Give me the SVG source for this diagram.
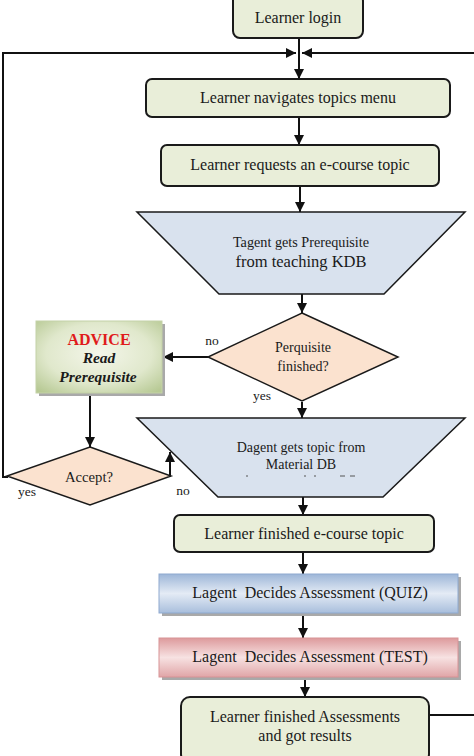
<svg xmlns="http://www.w3.org/2000/svg" width="474" height="756" viewBox="0 0 474 756">
<style>
text{font-family:"Liberation Serif","Times New Roman",serif;fill:#1a1a1a;text-anchor:middle}
.box{fill:#e9eed9;stroke:#1a1a1a;stroke-width:2}
.trap{fill:#d9e2ee;stroke:#1a1a1a;stroke-width:1.5}
.dia{fill:#fbe2cf;stroke:#1a1a1a;stroke-width:1.5}
.c{fill:none;stroke:#111;stroke-width:2}
.t15{font-size:16px}
.t13{font-size:13.5px}
.shadow{fill:#a9a9a9}
</style>
<defs>
<marker id="ah" viewBox="0 0 10 10" refX="10" refY="5" markerWidth="5.5" markerHeight="5" orient="auto" markerUnits="strokeWidth">
<path d="M0,0 L10,5 L0,10 z" fill="#111"/>
</marker>
<radialGradient id="gGreen" cx="0.5" cy="0.45" r="0.7">
<stop offset="0" stop-color="#f4f6ea"/>
<stop offset="0.6" stop-color="#e0e8cc"/>
<stop offset="1" stop-color="#b7c994"/>
</radialGradient>
<linearGradient id="gBlue" x1="0" y1="0" x2="0" y2="1">
<stop offset="0" stop-color="#9db6d8"/>
<stop offset="0.5" stop-color="#e4ebf5"/>
<stop offset="1" stop-color="#a8bedc"/>
</linearGradient>
<linearGradient id="gRed" x1="0" y1="0" x2="0" y2="1">
<stop offset="0" stop-color="#dd9a9c"/>
<stop offset="0.5" stop-color="#f7e2e2"/>
<stop offset="1" stop-color="#e0a5a7"/>
</linearGradient>
</defs>

<g id="connectors">
<line class="c" x1="299" y1="38" x2="299" y2="79" marker-end="url(#ah)"/>
<polyline class="c" points="8,477 3,477 3,53 296,53" marker-end="url(#ah)"/>
<polyline class="c" points="429,715 475,715 475,53 302,53" marker-end="url(#ah)"/>
<line class="c" x1="299" y1="117" x2="299" y2="145" marker-end="url(#ah)"/>
<line class="c" x1="300" y1="186" x2="300" y2="212" marker-end="url(#ah)"/>
<line class="c" x1="302" y1="294" x2="302" y2="313" marker-end="url(#ah)"/>
<line class="c" x1="208" y1="357" x2="163" y2="357" marker-end="url(#ah)"/>
<line class="c" x1="302" y1="402" x2="302" y2="418" marker-end="url(#ah)"/>
<line class="c" x1="90" y1="395" x2="90" y2="447" marker-end="url(#ah)"/>
<polyline class="c" points="171,476 170,476 170,452" marker-end="url(#ah)"/>
<line class="c" x1="303" y1="497" x2="303" y2="515" marker-end="url(#ah)"/>
<line class="c" x1="303" y1="552" x2="303" y2="574" marker-end="url(#ah)"/>
<line class="c" x1="303" y1="613" x2="303" y2="638" marker-end="url(#ah)"/>
<line class="c" x1="305" y1="677" x2="305" y2="697" marker-end="url(#ah)"/>
<text class="t13" x="212" y="345">no</text>
<text class="t13" x="262" y="400">yes</text>
<text class="t13" x="27" y="496">yes</text>
<text class="t13" x="183" y="495">no</text>
</g>

<g id="login">
<rect class="box" x="233" y="-6" width="130" height="44" rx="7"/>
<text class="t15" x="298" y="23">Learner login</text>
</g>

<g id="navigate">
<rect class="box" x="146" y="79" width="304" height="38" rx="6"/>
<text class="t15" x="298" y="103">Learner navigates topics menu</text>
</g>

<g id="request">
<rect class="box" x="161" y="145" width="278" height="41" rx="6"/>
<text class="t15" x="300" y="170">Learner requests an e-course topic</text>
</g>

<g id="tagent">
<polygon class="trap" points="137,212 465,212 384,294 219,294"/>
<text x="301" y="247" style="font-size:14.2px">Tagent gets Prerequisite</text>
<text x="301" y="267" style="font-size:16.5px">from teaching KDB</text>
</g>

<g id="prereq">
<polygon class="dia" points="302,313 398,357 302,401 208,357"/>
<text x="303" y="352" style="font-size:14px">Perquisite</text>
<text x="303" y="371" style="font-size:14px">finished?</text>
</g>

<g id="advice">
<rect class="shadow" x="39" y="324" width="126" height="72"/>
<rect x="36" y="321" width="126" height="72" fill="url(#gGreen)" stroke="#c4d2a8" stroke-width="1"/>
<text x="99" y="345" style="font-size:16px;font-weight:bold;fill:#e01b1b">ADVICE</text>
<text x="99" y="363" style="font-size:15.5px;font-weight:bold;font-style:italic">Read</text>
<text x="98" y="382" style="font-size:15.5px;font-weight:bold;font-style:italic">Prerequisite</text>
</g>

<g id="dagent">
<polygon class="trap" points="137,418 465,418 383,497 218,497"/>
<text x="301" y="452" style="font-size:14px">Dagent gets topic from</text>
<text x="301" y="469" style="font-size:14px">Material DB</text>
<g stroke="#555" stroke-width="1">
<line x1="246" y1="476" x2="248" y2="476"/>
<line x1="304" y1="476" x2="306" y2="476"/>
<line x1="314" y1="476" x2="316" y2="476"/>
<line x1="340" y1="476" x2="345" y2="476"/>
<line x1="350" y1="476" x2="355" y2="476"/>
</g>
</g>

<g id="accept">
<polygon class="dia" points="90,447 171,476 90,505 7,476"/>
<text x="89" y="482" style="font-size:14.7px">Accept?</text>
</g>

<g id="finishedTopic">
<rect class="box" x="174" y="515" width="260" height="37" rx="6"/>
<text class="t15" x="304" y="539">Learner finished e-course topic</text>
</g>

<g id="quiz">
<rect class="shadow" x="162" y="577" width="299" height="39"/>
<rect x="159" y="574" width="299" height="39" fill="url(#gBlue)" stroke="#8faad0" stroke-width="1"/>
<text class="t15" x="310" y="598" xml:space="preserve">Lagent  Decides Assessment (QUIZ)</text>
</g>

<g id="test">
<rect class="shadow" x="162" y="641" width="299" height="39"/>
<rect x="159" y="638" width="299" height="39" fill="url(#gRed)" stroke="#d89396" stroke-width="1"/>
<text class="t15" x="310" y="662" xml:space="preserve">Lagent  Decides Assessment (TEST)</text>
</g>

<g id="results">
<rect class="box" x="181" y="697" width="248" height="66" rx="9"/>
<text class="t15" x="305" y="722">Learner finished Assessments</text>
<text class="t15" x="305" y="741">and got results</text>
</g>
</svg>
